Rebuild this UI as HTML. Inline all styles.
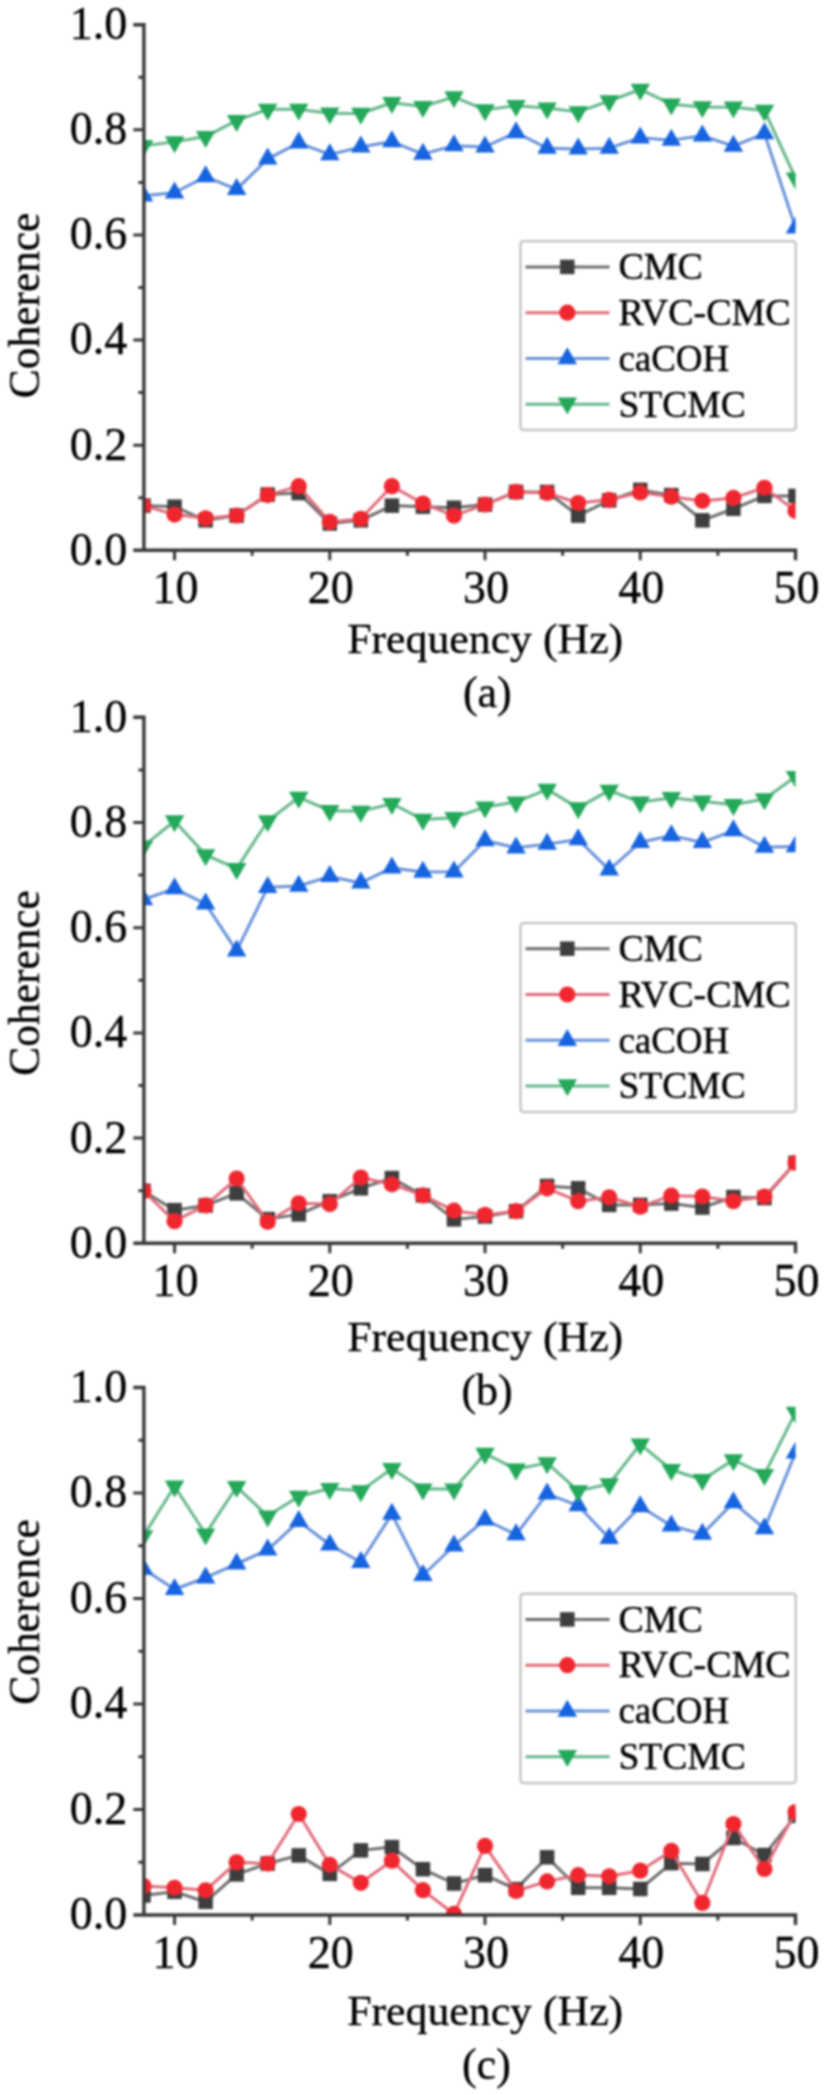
<!DOCTYPE html><html><head><meta charset="utf-8"><style>html,body{margin:0;padding:0;background:#fff;width:825px;height:2095px;overflow:hidden}svg{display:block;filter:blur(1px)}text{font-family:"Liberation Serif",serif;fill:#000;stroke:#000;stroke-width:0.35px}</style></head><body>
<svg width="825" height="2095" viewBox="0 0 825 2095">
<rect width="825" height="2095" fill="#fff"/>
<clipPath id="clipa"><rect x="143.5" y="22.7" width="652" height="527.6"/></clipPath>
<g clip-path="url(#clipa)">
<polyline fill="none" stroke="#6e6e6e" stroke-width="3.0" stroke-linejoin="round" points="143.5,505.62 174.55,506.68 205.6,520.34 236.64,515.61 267.69,494.59 298.74,493.01 329.79,523.49 360.83,520.34 391.88,505.62 422.93,506.68 453.98,507.73 485.02,504.57 516.07,491.96 547.12,491.96 578.17,515.61 609.21,500.37 640.26,489.86 671.31,495.11 702.36,520.34 733.4,508.78 764.45,495.9 795.5,495.9"/>
<g fill="#3e3e3e"><rect x="136.25" y="498.37" width="14.5" height="14.5"/><rect x="167.3" y="499.43" width="14.5" height="14.5"/><rect x="198.35" y="513.09" width="14.5" height="14.5"/><rect x="229.39" y="508.36" width="14.5" height="14.5"/><rect x="260.44" y="487.34" width="14.5" height="14.5"/><rect x="291.49" y="485.76" width="14.5" height="14.5"/><rect x="322.54" y="516.24" width="14.5" height="14.5"/><rect x="353.58" y="513.09" width="14.5" height="14.5"/><rect x="384.63" y="498.37" width="14.5" height="14.5"/><rect x="415.68" y="499.43" width="14.5" height="14.5"/><rect x="446.73" y="500.48" width="14.5" height="14.5"/><rect x="477.77" y="497.32" width="14.5" height="14.5"/><rect x="508.82" y="484.71" width="14.5" height="14.5"/><rect x="539.87" y="484.71" width="14.5" height="14.5"/><rect x="570.92" y="508.36" width="14.5" height="14.5"/><rect x="601.96" y="493.12" width="14.5" height="14.5"/><rect x="633.01" y="482.61" width="14.5" height="14.5"/><rect x="664.06" y="487.86" width="14.5" height="14.5"/><rect x="695.11" y="513.09" width="14.5" height="14.5"/><rect x="726.15" y="501.53" width="14.5" height="14.5"/><rect x="757.2" y="488.65" width="14.5" height="14.5"/><rect x="788.25" y="488.65" width="14.5" height="14.5"/></g>
<polyline fill="none" stroke="#e06c7a" stroke-width="3.0" stroke-linejoin="round" points="143.5,505.62 174.55,514.56 205.6,518.24 236.64,515.61 267.69,495.11 298.74,486.18 329.79,521.92 360.83,518.76 391.88,486.18 422.93,503.52 453.98,515.61 485.02,504.57 516.07,491.96 547.12,493.01 578.17,503 609.21,499.84 640.26,492.48 671.31,496.69 702.36,500.89 733.4,497.9 764.45,487.75 795.5,510.88"/>
<g fill="#f0262f"><circle cx="143.5" cy="505.62" r="8.1"/><circle cx="174.55" cy="514.56" r="8.1"/><circle cx="205.6" cy="518.24" r="8.1"/><circle cx="236.64" cy="515.61" r="8.1"/><circle cx="267.69" cy="495.11" r="8.1"/><circle cx="298.74" cy="486.18" r="8.1"/><circle cx="329.79" cy="521.92" r="8.1"/><circle cx="360.83" cy="518.76" r="8.1"/><circle cx="391.88" cy="486.18" r="8.1"/><circle cx="422.93" cy="503.52" r="8.1"/><circle cx="453.98" cy="515.61" r="8.1"/><circle cx="485.02" cy="504.57" r="8.1"/><circle cx="516.07" cy="491.96" r="8.1"/><circle cx="547.12" cy="493.01" r="8.1"/><circle cx="578.17" cy="503" r="8.1"/><circle cx="609.21" cy="499.84" r="8.1"/><circle cx="640.26" cy="492.48" r="8.1"/><circle cx="671.31" cy="496.69" r="8.1"/><circle cx="702.36" cy="500.89" r="8.1"/><circle cx="733.4" cy="497.9" r="8.1"/><circle cx="764.45" cy="487.75" r="8.1"/><circle cx="795.5" cy="510.88" r="8.1"/></g>
<polyline fill="none" stroke="#6992da" stroke-width="3.0" stroke-linejoin="round" points="143.5,195.83 174.55,192.73 205.6,176.63 236.64,189.43 267.69,158.93 298.74,142.93 329.79,154.63 360.83,146.93 391.88,141.53 422.93,154.13 453.98,145.63 485.02,146.93 516.07,132.53 547.12,148.13 578.17,148.93 609.21,148.13 640.26,137.73 671.31,140.13 702.36,135.73 733.4,146.13 764.45,133.53 795.5,227.73"/>
<g fill="#1764e0"><polygon points="143.5,184.5 153.25,201.5 133.75,201.5"/><polygon points="174.55,181.4 184.3,198.4 164.8,198.4"/><polygon points="205.6,165.3 215.35,182.3 195.85,182.3"/><polygon points="236.64,178.1 246.39,195.1 226.89,195.1"/><polygon points="267.69,147.6 277.44,164.6 257.94,164.6"/><polygon points="298.74,131.6 308.49,148.6 288.99,148.6"/><polygon points="329.79,143.3 339.54,160.3 320.04,160.3"/><polygon points="360.83,135.6 370.58,152.6 351.08,152.6"/><polygon points="391.88,130.2 401.63,147.2 382.13,147.2"/><polygon points="422.93,142.8 432.68,159.8 413.18,159.8"/><polygon points="453.98,134.3 463.73,151.3 444.23,151.3"/><polygon points="485.02,135.6 494.77,152.6 475.27,152.6"/><polygon points="516.07,121.2 525.82,138.2 506.32,138.2"/><polygon points="547.12,136.8 556.87,153.8 537.37,153.8"/><polygon points="578.17,137.6 587.92,154.6 568.42,154.6"/><polygon points="609.21,136.8 618.96,153.8 599.46,153.8"/><polygon points="640.26,126.4 650.01,143.4 630.51,143.4"/><polygon points="671.31,128.8 681.06,145.8 661.56,145.8"/><polygon points="702.36,124.4 712.11,141.4 692.61,141.4"/><polygon points="733.4,134.8 743.15,151.8 723.65,151.8"/><polygon points="764.45,122.2 774.2,139.2 754.7,139.2"/><polygon points="795.5,216.4 805.25,233.4 785.75,233.4"/></g>
<polyline fill="none" stroke="#66b78b" stroke-width="3.0" stroke-linejoin="round" points="143.5,145.67 174.55,141.87 205.6,136.57 236.64,120.57 267.69,109.37 298.74,109.37 329.79,113.27 360.83,113.47 391.88,102.77 422.93,106.57 453.98,96.97 485.02,109.87 516.07,105.67 547.12,108.07 578.17,111.87 609.21,100.97 640.26,89.47 671.31,104.17 702.36,106.97 733.4,107.27 764.45,110.47 795.5,178.07"/>
<g fill="#24a85a"><polygon points="133.75,140 153.25,140 143.5,157"/><polygon points="164.8,136.2 184.3,136.2 174.55,153.2"/><polygon points="195.85,130.9 215.35,130.9 205.6,147.9"/><polygon points="226.89,114.9 246.39,114.9 236.64,131.9"/><polygon points="257.94,103.7 277.44,103.7 267.69,120.7"/><polygon points="288.99,103.7 308.49,103.7 298.74,120.7"/><polygon points="320.04,107.6 339.54,107.6 329.79,124.6"/><polygon points="351.08,107.8 370.58,107.8 360.83,124.8"/><polygon points="382.13,97.1 401.63,97.1 391.88,114.1"/><polygon points="413.18,100.9 432.68,100.9 422.93,117.9"/><polygon points="444.23,91.3 463.73,91.3 453.98,108.3"/><polygon points="475.27,104.2 494.77,104.2 485.02,121.2"/><polygon points="506.32,100 525.82,100 516.07,117"/><polygon points="537.37,102.4 556.87,102.4 547.12,119.4"/><polygon points="568.42,106.2 587.92,106.2 578.17,123.2"/><polygon points="599.46,95.3 618.96,95.3 609.21,112.3"/><polygon points="630.51,83.8 650.01,83.8 640.26,100.8"/><polygon points="661.56,98.5 681.06,98.5 671.31,115.5"/><polygon points="692.61,101.3 712.11,101.3 702.36,118.3"/><polygon points="723.65,101.6 743.15,101.6 733.4,118.6"/><polygon points="754.7,104.8 774.2,104.8 764.45,121.8"/><polygon points="785.75,172.4 805.25,172.4 795.5,189.4"/></g>
</g>
<path d="M133.3 24.7H143.9V550.3M133.3 550.3H795.5V560.3" stroke="#383838" stroke-width="3.4" fill="none" stroke-linejoin="miter" stroke-linecap="butt"/>
<path d="M133.3 445.18H143.9M133.3 340.06H143.9M133.3 234.94H143.9M133.3 129.82H143.9M138.4 497.74H143.9M138.4 392.62H143.9M138.4 287.5H143.9M138.4 182.38H143.9M138.4 77.26H143.9M174.55 550.3V560.3M329.79 550.3V560.3M485.02 550.3V560.3M640.26 550.3V560.3M252.17 550.3V555.8M407.4 550.3V555.8M562.64 550.3V555.8M717.88 550.3V555.8" stroke="#383838" stroke-width="3" fill="none" stroke-linecap="butt"/>
<text x="127.2" y="564.7" font-size="46" text-anchor="end">0.0</text>
<text x="127.2" y="459.58" font-size="46" text-anchor="end">0.2</text>
<text x="127.2" y="354.46" font-size="46" text-anchor="end">0.4</text>
<text x="127.2" y="249.34" font-size="46" text-anchor="end">0.6</text>
<text x="127.2" y="144.22" font-size="46" text-anchor="end">0.8</text>
<text x="127.2" y="39.1" font-size="46" text-anchor="end">1.0</text>
<text x="175.55" y="602.9" font-size="46" text-anchor="middle">10</text>
<text x="330.79" y="602.9" font-size="46" text-anchor="middle">20</text>
<text x="486.02" y="602.9" font-size="46" text-anchor="middle">30</text>
<text x="641.26" y="602.9" font-size="46" text-anchor="middle">40</text>
<text x="796.5" y="602.9" font-size="46" text-anchor="middle">50</text>
<text x="485.2" y="652.7" font-size="41.5" text-anchor="middle" textLength="276" lengthAdjust="spacingAndGlyphs">Frequency (Hz)</text>
<text x="487.3" y="707.4" font-size="44" text-anchor="middle">(a)</text>
<text transform="translate(39.4,305.4) rotate(-90)" font-size="43.4" text-anchor="middle">Coherence</text>
<rect x="520.5" y="241.3" width="275.3" height="188.7" rx="3" fill="#fff" stroke="#c6c6c6" stroke-width="2.5"/>
<path d="M525.5 266.9H609.6" stroke="#6e6e6e" stroke-width="3.0"/>
<rect x="560.05" y="259.65" width="14.5" height="14.5" fill="#3e3e3e"/>
<text x="618.4" y="279.1" font-size="38">CMC</text>
<path d="M525.5 312.7H609.6" stroke="#e06c7a" stroke-width="3.0"/>
<circle cx="567.3" cy="312.7" r="8.1" fill="#f0262f"/>
<text x="618.4" y="324.9" font-size="38">RVC-CMC</text>
<path d="M525.5 358.5H609.6" stroke="#6992da" stroke-width="3.0"/>
<polygon points="567.3,347.17 577.05,364.17 557.55,364.17" fill="#1764e0"/>
<text x="618.4" y="370.7" font-size="38" textLength="110.8" lengthAdjust="spacingAndGlyphs">caCOH</text>
<path d="M525.5 404.3H609.6" stroke="#66b78b" stroke-width="3.0"/>
<polygon points="557.55,397.43 577.05,397.43 567.3,414.43" fill="#24a85a"/>
<text x="618.4" y="416.5" font-size="38" textLength="127.4" lengthAdjust="spacingAndGlyphs">STCMC</text>
<clipPath id="clipb"><rect x="143.5" y="715.3" width="652" height="528"/></clipPath>
<g clip-path="url(#clipb)">
<polyline fill="none" stroke="#6e6e6e" stroke-width="3.0" stroke-linejoin="round" points="143.5,1190.91 174.55,1210.16 205.6,1205.43 236.64,1193.33 267.69,1219.1 298.74,1214.37 329.79,1201.22 360.83,1188.28 391.88,1178.08 422.93,1195.43 453.98,1219.37 485.02,1216.47 516.07,1211.21 547.12,1185.97 578.17,1188.28 609.21,1204.9 640.26,1204.9 671.31,1203.59 702.36,1207.53 733.4,1197.01 764.45,1198.06 795.5,1162.82"/>
<g fill="#3e3e3e"><rect x="136.25" y="1183.66" width="14.5" height="14.5"/><rect x="167.3" y="1202.91" width="14.5" height="14.5"/><rect x="198.35" y="1198.18" width="14.5" height="14.5"/><rect x="229.39" y="1186.08" width="14.5" height="14.5"/><rect x="260.44" y="1211.85" width="14.5" height="14.5"/><rect x="291.49" y="1207.12" width="14.5" height="14.5"/><rect x="322.54" y="1193.97" width="14.5" height="14.5"/><rect x="353.58" y="1181.03" width="14.5" height="14.5"/><rect x="384.63" y="1170.83" width="14.5" height="14.5"/><rect x="415.68" y="1188.18" width="14.5" height="14.5"/><rect x="446.73" y="1212.12" width="14.5" height="14.5"/><rect x="477.77" y="1209.22" width="14.5" height="14.5"/><rect x="508.82" y="1203.96" width="14.5" height="14.5"/><rect x="539.87" y="1178.72" width="14.5" height="14.5"/><rect x="570.92" y="1181.03" width="14.5" height="14.5"/><rect x="601.96" y="1197.65" width="14.5" height="14.5"/><rect x="633.01" y="1197.65" width="14.5" height="14.5"/><rect x="664.06" y="1196.34" width="14.5" height="14.5"/><rect x="695.11" y="1200.28" width="14.5" height="14.5"/><rect x="726.15" y="1189.76" width="14.5" height="14.5"/><rect x="757.2" y="1190.81" width="14.5" height="14.5"/><rect x="788.25" y="1155.57" width="14.5" height="14.5"/></g>
<polyline fill="none" stroke="#e06c7a" stroke-width="3.0" stroke-linejoin="round" points="143.5,1190.91 174.55,1221.21 205.6,1205.43 236.64,1178.6 267.69,1221.73 298.74,1203.32 329.79,1204.11 360.83,1177.55 391.88,1184.39 422.93,1195.43 453.98,1210.69 485.02,1214.9 516.07,1211.21 547.12,1188.28 578.17,1201.22 609.21,1197.27 640.26,1206.69 671.31,1195.7 702.36,1196.49 733.4,1201.22 764.45,1196.49 795.5,1162.82"/>
<g fill="#f0262f"><circle cx="143.5" cy="1190.91" r="8.1"/><circle cx="174.55" cy="1221.21" r="8.1"/><circle cx="205.6" cy="1205.43" r="8.1"/><circle cx="236.64" cy="1178.6" r="8.1"/><circle cx="267.69" cy="1221.73" r="8.1"/><circle cx="298.74" cy="1203.32" r="8.1"/><circle cx="329.79" cy="1204.11" r="8.1"/><circle cx="360.83" cy="1177.55" r="8.1"/><circle cx="391.88" cy="1184.39" r="8.1"/><circle cx="422.93" cy="1195.43" r="8.1"/><circle cx="453.98" cy="1210.69" r="8.1"/><circle cx="485.02" cy="1214.9" r="8.1"/><circle cx="516.07" cy="1211.21" r="8.1"/><circle cx="547.12" cy="1188.28" r="8.1"/><circle cx="578.17" cy="1201.22" r="8.1"/><circle cx="609.21" cy="1197.27" r="8.1"/><circle cx="640.26" cy="1206.69" r="8.1"/><circle cx="671.31" cy="1195.7" r="8.1"/><circle cx="702.36" cy="1196.49" r="8.1"/><circle cx="733.4" cy="1201.22" r="8.1"/><circle cx="764.45" cy="1196.49" r="8.1"/><circle cx="795.5" cy="1162.82" r="8.1"/></g>
<polyline fill="none" stroke="#6992da" stroke-width="3.0" stroke-linejoin="round" points="143.5,899.53 174.55,888.63 205.6,903.83 236.64,950.93 267.69,887.33 298.74,886.03 329.79,876.43 360.83,882.93 391.88,867.93 422.93,872.03 453.98,871.83 485.02,840.53 516.07,847.83 547.12,844.13 578.17,839.53 609.21,869.83 640.26,842.33 671.31,835.63 702.36,842.43 733.4,830.53 764.45,847.13 795.5,846.53"/>
<g fill="#1764e0"><polygon points="143.5,888.2 153.25,905.2 133.75,905.2"/><polygon points="174.55,877.3 184.3,894.3 164.8,894.3"/><polygon points="205.6,892.5 215.35,909.5 195.85,909.5"/><polygon points="236.64,939.6 246.39,956.6 226.89,956.6"/><polygon points="267.69,876 277.44,893 257.94,893"/><polygon points="298.74,874.7 308.49,891.7 288.99,891.7"/><polygon points="329.79,865.1 339.54,882.1 320.04,882.1"/><polygon points="360.83,871.6 370.58,888.6 351.08,888.6"/><polygon points="391.88,856.6 401.63,873.6 382.13,873.6"/><polygon points="422.93,860.7 432.68,877.7 413.18,877.7"/><polygon points="453.98,860.5 463.73,877.5 444.23,877.5"/><polygon points="485.02,829.2 494.77,846.2 475.27,846.2"/><polygon points="516.07,836.5 525.82,853.5 506.32,853.5"/><polygon points="547.12,832.8 556.87,849.8 537.37,849.8"/><polygon points="578.17,828.2 587.92,845.2 568.42,845.2"/><polygon points="609.21,858.5 618.96,875.5 599.46,875.5"/><polygon points="640.26,831 650.01,848 630.51,848"/><polygon points="671.31,824.3 681.06,841.3 661.56,841.3"/><polygon points="702.36,831.1 712.11,848.1 692.61,848.1"/><polygon points="733.4,819.2 743.15,836.2 723.65,836.2"/><polygon points="764.45,835.8 774.2,852.8 754.7,852.8"/><polygon points="795.5,835.2 805.25,852.2 785.75,852.2"/></g>
<polyline fill="none" stroke="#66b78b" stroke-width="3.0" stroke-linejoin="round" points="143.5,846.17 174.55,820.97 205.6,854.87 236.64,868.57 267.69,820.97 298.74,797.37 329.79,810.67 360.83,811.37 391.88,803.67 422.93,819.47 453.98,817.67 485.02,807.07 516.07,802.07 547.12,789.37 578.17,807.87 609.21,790.37 640.26,802.27 671.31,797.67 702.36,801.17 733.4,804.67 764.45,798.97 795.5,776.67"/>
<g fill="#24a85a"><polygon points="133.75,840.5 153.25,840.5 143.5,857.5"/><polygon points="164.8,815.3 184.3,815.3 174.55,832.3"/><polygon points="195.85,849.2 215.35,849.2 205.6,866.2"/><polygon points="226.89,862.9 246.39,862.9 236.64,879.9"/><polygon points="257.94,815.3 277.44,815.3 267.69,832.3"/><polygon points="288.99,791.7 308.49,791.7 298.74,808.7"/><polygon points="320.04,805 339.54,805 329.79,822"/><polygon points="351.08,805.7 370.58,805.7 360.83,822.7"/><polygon points="382.13,798 401.63,798 391.88,815"/><polygon points="413.18,813.8 432.68,813.8 422.93,830.8"/><polygon points="444.23,812 463.73,812 453.98,829"/><polygon points="475.27,801.4 494.77,801.4 485.02,818.4"/><polygon points="506.32,796.4 525.82,796.4 516.07,813.4"/><polygon points="537.37,783.7 556.87,783.7 547.12,800.7"/><polygon points="568.42,802.2 587.92,802.2 578.17,819.2"/><polygon points="599.46,784.7 618.96,784.7 609.21,801.7"/><polygon points="630.51,796.6 650.01,796.6 640.26,813.6"/><polygon points="661.56,792 681.06,792 671.31,809"/><polygon points="692.61,795.5 712.11,795.5 702.36,812.5"/><polygon points="723.65,799 743.15,799 733.4,816"/><polygon points="754.7,793.3 774.2,793.3 764.45,810.3"/><polygon points="785.75,771 805.25,771 795.5,788"/></g>
</g>
<path d="M133.3 717.3H143.9V1243.3M133.3 1243.3H795.5V1253.3" stroke="#383838" stroke-width="3.4" fill="none" stroke-linejoin="miter" stroke-linecap="butt"/>
<path d="M133.3 1138.1H143.9M133.3 1032.9H143.9M133.3 927.7H143.9M133.3 822.5H143.9M138.4 1190.7H143.9M138.4 1085.5H143.9M138.4 980.3H143.9M138.4 875.1H143.9M138.4 769.9H143.9M174.55 1243.3V1253.3M329.79 1243.3V1253.3M485.02 1243.3V1253.3M640.26 1243.3V1253.3M252.17 1243.3V1248.8M407.4 1243.3V1248.8M562.64 1243.3V1248.8M717.88 1243.3V1248.8" stroke="#383838" stroke-width="3" fill="none" stroke-linecap="butt"/>
<text x="127.2" y="1257.7" font-size="46" text-anchor="end">0.0</text>
<text x="127.2" y="1152.5" font-size="46" text-anchor="end">0.2</text>
<text x="127.2" y="1047.3" font-size="46" text-anchor="end">0.4</text>
<text x="127.2" y="942.1" font-size="46" text-anchor="end">0.6</text>
<text x="127.2" y="836.9" font-size="46" text-anchor="end">0.8</text>
<text x="127.2" y="731.7" font-size="46" text-anchor="end">1.0</text>
<text x="175.55" y="1295.9" font-size="46" text-anchor="middle">10</text>
<text x="330.79" y="1295.9" font-size="46" text-anchor="middle">20</text>
<text x="486.02" y="1295.9" font-size="46" text-anchor="middle">30</text>
<text x="641.26" y="1295.9" font-size="46" text-anchor="middle">40</text>
<text x="796.5" y="1295.9" font-size="46" text-anchor="middle">50</text>
<text x="485.2" y="1350.5" font-size="41.5" text-anchor="middle" textLength="276" lengthAdjust="spacingAndGlyphs">Frequency (Hz)</text>
<text x="487.1" y="1405.25" font-size="44" text-anchor="middle">(b)</text>
<text transform="translate(39.4,982.9) rotate(-90)" font-size="43.4" text-anchor="middle">Coherence</text>
<rect x="520.5" y="923.1" width="275.3" height="189" rx="3" fill="#fff" stroke="#c6c6c6" stroke-width="2.5"/>
<path d="M525.5 948.7H609.6" stroke="#6e6e6e" stroke-width="3.0"/>
<rect x="560.05" y="941.45" width="14.5" height="14.5" fill="#3e3e3e"/>
<text x="618.4" y="960.9" font-size="38">CMC</text>
<path d="M525.5 994.5H609.6" stroke="#e06c7a" stroke-width="3.0"/>
<circle cx="567.3" cy="994.5" r="8.1" fill="#f0262f"/>
<text x="618.4" y="1006.7" font-size="38">RVC-CMC</text>
<path d="M525.5 1040.3H609.6" stroke="#6992da" stroke-width="3.0"/>
<polygon points="567.3,1028.97 577.05,1045.97 557.55,1045.97" fill="#1764e0"/>
<text x="618.4" y="1052.5" font-size="38" textLength="110.8" lengthAdjust="spacingAndGlyphs">caCOH</text>
<path d="M525.5 1086.1H609.6" stroke="#66b78b" stroke-width="3.0"/>
<polygon points="557.55,1079.23 577.05,1079.23 567.3,1096.23" fill="#24a85a"/>
<text x="618.4" y="1098.3" font-size="38" textLength="127.4" lengthAdjust="spacingAndGlyphs">STCMC</text>
<clipPath id="clipc"><rect x="143.5" y="1385.5" width="652" height="529.5"/></clipPath>
<g clip-path="url(#clipc)">
<polyline fill="none" stroke="#6e6e6e" stroke-width="3.0" stroke-linejoin="round" points="143.5,1895.48 174.55,1891.79 205.6,1901.81 236.64,1874.38 267.69,1863.57 298.74,1855.39 329.79,1873.86 360.83,1850.38 391.88,1847.11 422.93,1869.21 453.98,1883.51 485.02,1875.12 516.07,1889.15 547.12,1857.29 578.17,1887.78 609.21,1887.78 640.26,1888.99 671.31,1863.15 702.36,1863.99 733.4,1837.98 764.45,1855.02 795.5,1815.83"/>
<g fill="#3e3e3e"><rect x="136.25" y="1888.23" width="14.5" height="14.5"/><rect x="167.3" y="1884.54" width="14.5" height="14.5"/><rect x="198.35" y="1894.56" width="14.5" height="14.5"/><rect x="229.39" y="1867.13" width="14.5" height="14.5"/><rect x="260.44" y="1856.32" width="14.5" height="14.5"/><rect x="291.49" y="1848.14" width="14.5" height="14.5"/><rect x="322.54" y="1866.61" width="14.5" height="14.5"/><rect x="353.58" y="1843.13" width="14.5" height="14.5"/><rect x="384.63" y="1839.86" width="14.5" height="14.5"/><rect x="415.68" y="1861.96" width="14.5" height="14.5"/><rect x="446.73" y="1876.26" width="14.5" height="14.5"/><rect x="477.77" y="1867.87" width="14.5" height="14.5"/><rect x="508.82" y="1881.9" width="14.5" height="14.5"/><rect x="539.87" y="1850.04" width="14.5" height="14.5"/><rect x="570.92" y="1880.53" width="14.5" height="14.5"/><rect x="601.96" y="1880.53" width="14.5" height="14.5"/><rect x="633.01" y="1881.74" width="14.5" height="14.5"/><rect x="664.06" y="1855.9" width="14.5" height="14.5"/><rect x="695.11" y="1856.74" width="14.5" height="14.5"/><rect x="726.15" y="1830.73" width="14.5" height="14.5"/><rect x="757.2" y="1847.77" width="14.5" height="14.5"/><rect x="788.25" y="1808.58" width="14.5" height="14.5"/></g>
<polyline fill="none" stroke="#e06c7a" stroke-width="3.0" stroke-linejoin="round" points="143.5,1885.99 174.55,1887.78 205.6,1890.31 236.64,1862.3 267.69,1863.57 298.74,1813.98 329.79,1864.89 360.83,1882.82 391.88,1860.67 422.93,1890.21 453.98,1913.94 485.02,1845.9 516.07,1891 547.12,1881.4 578.17,1875.12 609.21,1876.33 640.26,1870.69 671.31,1850.96 702.36,1902.97 733.4,1824.01 764.45,1869 795.5,1811.98"/>
<g fill="#f0262f"><circle cx="143.5" cy="1885.99" r="8.1"/><circle cx="174.55" cy="1887.78" r="8.1"/><circle cx="205.6" cy="1890.31" r="8.1"/><circle cx="236.64" cy="1862.3" r="8.1"/><circle cx="267.69" cy="1863.57" r="8.1"/><circle cx="298.74" cy="1813.98" r="8.1"/><circle cx="329.79" cy="1864.89" r="8.1"/><circle cx="360.83" cy="1882.82" r="8.1"/><circle cx="391.88" cy="1860.67" r="8.1"/><circle cx="422.93" cy="1890.21" r="8.1"/><circle cx="453.98" cy="1913.94" r="8.1"/><circle cx="485.02" cy="1845.9" r="8.1"/><circle cx="516.07" cy="1891" r="8.1"/><circle cx="547.12" cy="1881.4" r="8.1"/><circle cx="578.17" cy="1875.12" r="8.1"/><circle cx="609.21" cy="1876.33" r="8.1"/><circle cx="640.26" cy="1870.69" r="8.1"/><circle cx="671.31" cy="1850.96" r="8.1"/><circle cx="702.36" cy="1902.97" r="8.1"/><circle cx="733.4" cy="1824.01" r="8.1"/><circle cx="764.45" cy="1869" r="8.1"/><circle cx="795.5" cy="1811.98" r="8.1"/></g>
<polyline fill="none" stroke="#6992da" stroke-width="3.0" stroke-linejoin="round" points="143.5,1569.13 174.55,1589.23 205.6,1577.73 236.64,1563.83 267.69,1549.83 298.74,1521.33 329.79,1544.73 360.83,1562.23 391.88,1514.13 422.93,1575.23 453.98,1545.73 485.02,1519.73 516.07,1534.53 547.12,1493.83 578.17,1505.53 609.21,1538.33 640.26,1506.53 671.31,1525.73 702.36,1534.13 733.4,1502.63 764.45,1528.53 795.5,1452.83"/>
<g fill="#1764e0"><polygon points="143.5,1557.8 153.25,1574.8 133.75,1574.8"/><polygon points="174.55,1577.9 184.3,1594.9 164.8,1594.9"/><polygon points="205.6,1566.4 215.35,1583.4 195.85,1583.4"/><polygon points="236.64,1552.5 246.39,1569.5 226.89,1569.5"/><polygon points="267.69,1538.5 277.44,1555.5 257.94,1555.5"/><polygon points="298.74,1510 308.49,1527 288.99,1527"/><polygon points="329.79,1533.4 339.54,1550.4 320.04,1550.4"/><polygon points="360.83,1550.9 370.58,1567.9 351.08,1567.9"/><polygon points="391.88,1502.8 401.63,1519.8 382.13,1519.8"/><polygon points="422.93,1563.9 432.68,1580.9 413.18,1580.9"/><polygon points="453.98,1534.4 463.73,1551.4 444.23,1551.4"/><polygon points="485.02,1508.4 494.77,1525.4 475.27,1525.4"/><polygon points="516.07,1523.2 525.82,1540.2 506.32,1540.2"/><polygon points="547.12,1482.5 556.87,1499.5 537.37,1499.5"/><polygon points="578.17,1494.2 587.92,1511.2 568.42,1511.2"/><polygon points="609.21,1527 618.96,1544 599.46,1544"/><polygon points="640.26,1495.2 650.01,1512.2 630.51,1512.2"/><polygon points="671.31,1514.4 681.06,1531.4 661.56,1531.4"/><polygon points="702.36,1522.8 712.11,1539.8 692.61,1539.8"/><polygon points="733.4,1491.3 743.15,1508.3 723.65,1508.3"/><polygon points="764.45,1517.2 774.2,1534.2 754.7,1534.2"/><polygon points="795.5,1441.5 805.25,1458.5 785.75,1458.5"/></g>
<polyline fill="none" stroke="#66b78b" stroke-width="3.0" stroke-linejoin="round" points="143.5,1535.87 174.55,1486.27 205.6,1534.07 236.64,1486.77 267.69,1516.07 298.74,1496.47 329.79,1488.57 360.83,1490.87 391.88,1468.67 422.93,1489.07 453.98,1489.07 485.02,1453.47 516.07,1469.27 547.12,1462.87 578.17,1490.87 609.21,1483.97 640.26,1444.07 671.31,1469.77 702.36,1479.77 733.4,1459.87 764.45,1474.67 795.5,1412.37"/>
<g fill="#24a85a"><polygon points="133.75,1530.2 153.25,1530.2 143.5,1547.2"/><polygon points="164.8,1480.6 184.3,1480.6 174.55,1497.6"/><polygon points="195.85,1528.4 215.35,1528.4 205.6,1545.4"/><polygon points="226.89,1481.1 246.39,1481.1 236.64,1498.1"/><polygon points="257.94,1510.4 277.44,1510.4 267.69,1527.4"/><polygon points="288.99,1490.8 308.49,1490.8 298.74,1507.8"/><polygon points="320.04,1482.9 339.54,1482.9 329.79,1499.9"/><polygon points="351.08,1485.2 370.58,1485.2 360.83,1502.2"/><polygon points="382.13,1463 401.63,1463 391.88,1480"/><polygon points="413.18,1483.4 432.68,1483.4 422.93,1500.4"/><polygon points="444.23,1483.4 463.73,1483.4 453.98,1500.4"/><polygon points="475.27,1447.8 494.77,1447.8 485.02,1464.8"/><polygon points="506.32,1463.6 525.82,1463.6 516.07,1480.6"/><polygon points="537.37,1457.2 556.87,1457.2 547.12,1474.2"/><polygon points="568.42,1485.2 587.92,1485.2 578.17,1502.2"/><polygon points="599.46,1478.3 618.96,1478.3 609.21,1495.3"/><polygon points="630.51,1438.4 650.01,1438.4 640.26,1455.4"/><polygon points="661.56,1464.1 681.06,1464.1 671.31,1481.1"/><polygon points="692.61,1474.1 712.11,1474.1 702.36,1491.1"/><polygon points="723.65,1454.2 743.15,1454.2 733.4,1471.2"/><polygon points="754.7,1469 774.2,1469 764.45,1486"/><polygon points="785.75,1406.7 805.25,1406.7 795.5,1423.7"/></g>
</g>
<path d="M133.3 1387.5H143.9V1915M133.3 1915H795.5V1925" stroke="#383838" stroke-width="3.4" fill="none" stroke-linejoin="miter" stroke-linecap="butt"/>
<path d="M133.3 1809.5H143.9M133.3 1704H143.9M133.3 1598.5H143.9M133.3 1493H143.9M138.4 1862.25H143.9M138.4 1756.75H143.9M138.4 1651.25H143.9M138.4 1545.75H143.9M138.4 1440.25H143.9M174.55 1915V1925M329.79 1915V1925M485.02 1915V1925M640.26 1915V1925M252.17 1915V1920.5M407.4 1915V1920.5M562.64 1915V1920.5M717.88 1915V1920.5" stroke="#383838" stroke-width="3" fill="none" stroke-linecap="butt"/>
<text x="127.2" y="1929.4" font-size="46" text-anchor="end">0.0</text>
<text x="127.2" y="1823.9" font-size="46" text-anchor="end">0.2</text>
<text x="127.2" y="1718.4" font-size="46" text-anchor="end">0.4</text>
<text x="127.2" y="1612.9" font-size="46" text-anchor="end">0.6</text>
<text x="127.2" y="1507.4" font-size="46" text-anchor="end">0.8</text>
<text x="127.2" y="1401.9" font-size="46" text-anchor="end">1.0</text>
<text x="175.55" y="1967.6" font-size="46" text-anchor="middle">10</text>
<text x="330.79" y="1967.6" font-size="46" text-anchor="middle">20</text>
<text x="486.02" y="1967.6" font-size="46" text-anchor="middle">30</text>
<text x="641.26" y="1967.6" font-size="46" text-anchor="middle">40</text>
<text x="796.5" y="1967.6" font-size="46" text-anchor="middle">50</text>
<text x="485.2" y="2025.1" font-size="41.5" text-anchor="middle" textLength="276" lengthAdjust="spacingAndGlyphs">Frequency (Hz)</text>
<text x="486.4" y="2079.35" font-size="44" text-anchor="middle">(c)</text>
<text transform="translate(39.4,1612) rotate(-90)" font-size="43.4" text-anchor="middle">Coherence</text>
<rect x="520.5" y="1593.8" width="275.3" height="189.2" rx="3" fill="#fff" stroke="#c6c6c6" stroke-width="2.5"/>
<path d="M525.5 1619.4H609.6" stroke="#6e6e6e" stroke-width="3.0"/>
<rect x="560.05" y="1612.15" width="14.5" height="14.5" fill="#3e3e3e"/>
<text x="618.4" y="1631.6" font-size="38">CMC</text>
<path d="M525.5 1665.2H609.6" stroke="#e06c7a" stroke-width="3.0"/>
<circle cx="567.3" cy="1665.2" r="8.1" fill="#f0262f"/>
<text x="618.4" y="1677.4" font-size="38">RVC-CMC</text>
<path d="M525.5 1711H609.6" stroke="#6992da" stroke-width="3.0"/>
<polygon points="567.3,1699.67 577.05,1716.67 557.55,1716.67" fill="#1764e0"/>
<text x="618.4" y="1723.2" font-size="38" textLength="110.8" lengthAdjust="spacingAndGlyphs">caCOH</text>
<path d="M525.5 1756.8H609.6" stroke="#66b78b" stroke-width="3.0"/>
<polygon points="557.55,1749.93 577.05,1749.93 567.3,1766.93" fill="#24a85a"/>
<text x="618.4" y="1769" font-size="38" textLength="127.4" lengthAdjust="spacingAndGlyphs">STCMC</text>
</svg></body></html>
